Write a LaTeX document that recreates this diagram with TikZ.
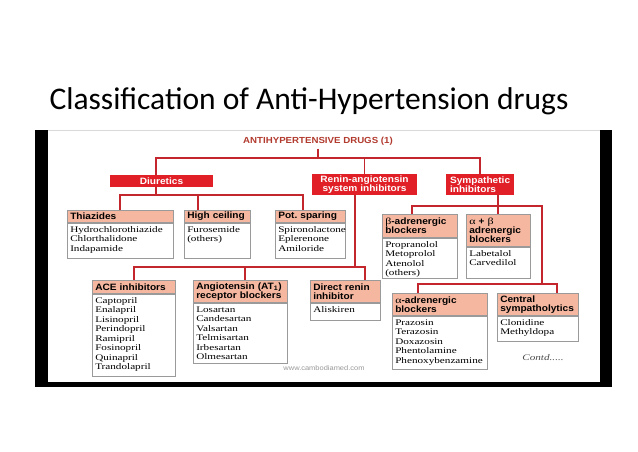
\documentclass[tikz,border=0pt]{standalone}
\usepackage{fontspec}
\usetikzlibrary{positioning, shadows}
\setmainfont{Liberation Serif}
\newfontfamily\drugfont{Liberation Serif}[FakeStretch=1.3]
\newfontfamily\groupfont{Liberation Sans}[FakeStretch=1.1]
\newfontfamily\slidefont{Carlito}
\definecolor{linkred}{HTML}{C4262E}
\definecolor{groupred}{HTML}{E11F26}
\definecolor{headsalmon}{HTML}{F5B7A0}
\definecolor{titlered}{HTML}{B23A2E}
\definecolor{boxgray}{HTML}{9A9A9A}
\frenchspacing

\begin{document}
\begin{tikzpicture}[x=1pt, y=-1pt,
    link/.style={draw=linkred, line width=1.6pt},
    group/.style={fill=groupred, text=white, inner sep=0pt, font=\groupfont\bfseries\fontsize{9.2}{9}\selectfont},
    hdr/.style={draw=boxgray, line width=0.5pt, fill=headsalmon, anchor=north west, inner xsep=3pt, inner ysep=0pt, align=left, font=\groupfont\bfseries\fontsize{9.2}{9}\selectfont, drop shadow={shadow xshift=1.2pt, shadow yshift=-1.2pt, fill=black!30}},
    drug/.style={draw=boxgray, line width=0.5pt, fill=white, anchor=north west, inner xsep=3pt, inner ysep=2.5pt, text height=6.8pt, align=left, font=\drugfont\fontsize{8.6}{9.5}\selectfont, drop shadow={shadow xshift=1.2pt, shadow yshift=-1.2pt, fill=black!30}}
]
\useasboundingbox (0,0) rectangle (638,451);
\fill[white] (0,0) rectangle (638,451);

% screenshot frame
\fill[black] (35,130) rectangle (612,387);
\fill[white] (48,130) rectangle (600,382);
\draw[black!15, line width=0.8pt] (48,130.5) -- (600,130.5);

\node[anchor=base west, font=\slidefont\fontsize{31.5}{32}\selectfont] (slide) at (46,109) {Classification of Anti-Hypertension drugs};

\node[text=titlered, font=\groupfont\bfseries\fontsize{8.8}{9}\selectfont] (ttl) at (318,141) {ANTIHYPERTENSIVE DRUGS (1)};

% drug groups
\node[group, minimum width=103pt, minimum height=12pt] (dru) at (161.5,181) {Diuretics};
\node[group, minimum width=105pt, minimum height=21pt, align=center] (ras) at (364.5,184.5) {Renin-angiotensin\\system inhibitors};
\node[group, minimum height=21pt, text width=60pt, inner xsep=4pt, align=left] (sym) at (480,184.5) {Sympathetic\\inhibitors};

% diuretics
\node[hdr, text width=100pt, minimum height=12pt] (thzh) at (67,210) {Thiazides};
\node[drug, text width=100pt, text depth=23.2pt] (thz) at (thzh.south west) {Hydrochlorothiazide\\Chlorthalidone\\Indapamide};
\node[hdr, text width=60pt, minimum height=12pt] (hch) at (184,210) {High ceiling};
\node[drug, text width=60pt, text depth=23.2pt] (hc) at (hch.south west) {Furosemide\\(others)};
\node[hdr, text width=64pt, minimum height=12pt] (potsh) at (275,210) {Pot. sparing};
\node[drug, text width=64pt, text depth=23.2pt] (pots) at (potsh.south west) {Spironolactone\\Eplerenone\\Amiloride};

% renin-angiotensin
\node[hdr, text width=77pt, minimum height=13pt] (aceh) at (92,280) {ACE inhibitors};
\node[drug, text width=77pt, text depth=70.2pt] (ace) at (aceh.south west) {Captopril\\Enalapril\\Lisinopril\\Perindopril\\Ramipril\\Fosinopril\\Quinapril\\Trandolapril};
\node[hdr, text width=88pt, minimum height=22pt] (at1h) at (193,280) {Angiotensin (AT\textsubscript{1})\\receptor blockers};
\node[drug, text width=88pt, text depth=48.2pt] (at1) at (at1h.south west) {Losartan\\Candesartan\\Valsartan\\Telmisartan\\Irbesartan\\Olmesartan};
\node[hdr, text width=64pt, minimum height=22pt] (drh) at (310,280) {Direct renin\\inhibitor};
\node[drug, text width=64pt, text depth=5.2pt] (dr) at (drh.south west) {Aliskiren};

% sympathetic
\node[hdr, text width=69pt, minimum height=23pt] (bh) at (382,214) {{\drugfont\mdseries β}-adrenergic\\blockers};
\node[drug, text width=69pt, text depth=28.2pt] (b) at (bh.south west) {Propranolol\\Metoprolol\\Atenolol\\(others)};
\node[hdr, text width=58pt, minimum height=32pt] (abh) at (466,214) {{\drugfont\mdseries α} + {\drugfont\mdseries β}\\adrenergic\\blockers};
\node[drug, text width=58pt, text depth=19.2pt] (ab) at (abh.south west) {Labetalol\\Carvedilol};
\node[hdr, text width=89pt, minimum height=22pt] (ah) at (392,293) {{\drugfont\mdseries α}-adrenergic\\blockers};
\node[drug, text width=89pt, text depth=41.2pt] (a) at (ah.south west) {Prazosin\\Terazosin\\Doxazosin\\Phentolamine\\Phenoxybenzamine};
\node[hdr, text width=75pt, minimum height=22pt] (csh) at (497,293) {Central\\sympatholytics};
\node[drug, text width=75pt, text depth=13.2pt] (cs) at (csh.south west) {Clonidine\\Methyldopa};

\node[text=black!70, font=\drugfont\itshape\fontsize{8.6}{9}\selectfont] (contd) at (543,358) {Contd.....};
\node[text=black!40, font=\groupfont\fontsize{6.8}{8}\selectfont] (web) at (324,368) {www.cambodiamed.com};

% connectors
\coordinate (bus1) at (0,158);
\coordinate (bus2) at (0,195);
\coordinate (bus3) at (0,267);
\coordinate (bus4) at (0,206);
\coordinate (bus5) at (0,284);
\coordinate (spine) at (542,0);
\coordinate (drudrop) at ([xshift=-5.5pt]dru.south);
\coordinate (hcdrop) at ([xshift=-19pt]hch.north);
\coordinate (potdrop) at ([xshift=-7pt]potsh.north);
\coordinate (rasdrop) at ([xshift=-9.5pt]ras.south);
\coordinate (at1drop) at ([xshift=5pt]at1h.north);
\coordinate (drdrop) at ([xshift=20pt]drh.north);
\coordinate (bdrop) at ([xshift=-7.5pt]bh.north);
\coordinate (adrop) at ([xshift=-21.5pt]ah.north);
\coordinate (csdrop) at ([xshift=19.5pt]csh.north);

\draw[link] (ttl.south) -- (ttl.south |- bus1);
\draw[link] ([xshift=-5.5pt]dru.north) |- (bus1 -| sym.north) -- (sym.north);
\draw[link] (ras.north) -- (ras.north |- bus1);

\draw[link] (drudrop) -- (drudrop |- bus2);
\draw[link] (thzh.north) |- (bus2 -| potdrop) -- (potdrop);
\draw[link] (hcdrop) -- (hcdrop |- bus2);

\draw[link] (rasdrop) -- (rasdrop |- bus3);
\draw[link] (aceh.north) |- (bus3 -| drdrop) -- (drdrop);
\draw[link] (at1drop) -- (at1drop |- bus3);

\draw[link] (sym.south -| abh.north) -- (abh.north);
\draw[link] (bdrop) |- (bus4 -| spine) -- (spine |- bus5);
\draw[link] (adrop) |- (bus5 -| csdrop) -- (csdrop);

\end{tikzpicture}
\end{document}
